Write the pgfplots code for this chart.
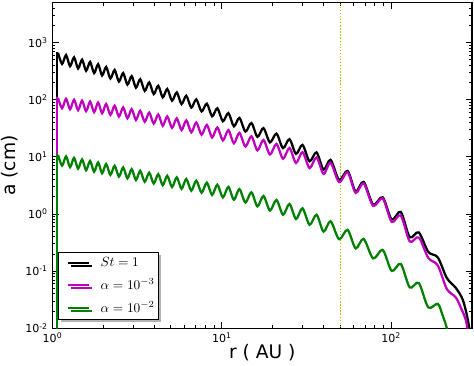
\documentclass[border=0pt]{standalone}
\usepackage{pgfplots}
\pgfplotsset{compat=1.18}
\usepackage{fontspec}
\setmainfont{DejaVu Sans}
\usetikzlibrary{shadows}
\definecolor{mplm}{rgb}{0.75,0,0.75}
\definecolor{mplg}{rgb}{0,0.5,0}
\definecolor{mply}{rgb}{0.75,0.75,0}
\begin{document}
\begin{tikzpicture}
\useasboundingbox (-39.4pt,-28.3pt) rectangle (316.1pt,246.2pt);
\begin{loglogaxis}[
  scale only axis, width=314.6pt, height=244.2pt,
  xmin=1, xmax=300, ymin=0.01, ymax=5000,
  log basis x=10, log basis y=10,
  tick align=inside,
  major tick length=4.5pt, minor tick length=2.2pt,
  every tick/.style={black, line width=0.6pt},
  axis line style={line width=0.9pt},
  ticklabel style={font=\fontsize{8.3}{9}\selectfont},
  xticklabel={10\textsuperscript{\pgfmathparse{int(round(\tick))}\pgfmathresult}},
  yticklabel={10\textsuperscript{\pgfmathparse{int(round(\tick))}\pgfmathresult}},
  xlabel={r ( AU )}, ylabel={a (cm)},
  label style={font=\fontsize{14}{16}\selectfont},
  xlabel style={at={(axis description cs:0.5,0)}, anchor=center, yshift=-18.5pt},
  ylabel style={at={(axis description cs:-0.102,0.5)}, anchor=center},
  legend image code/.code={\path (0cm,0cm) (0.95cm,0cm); \draw[#1, line width=1pt] (0.2cm,0cm) -- (0.75cm,0cm);},
  legend style={at={(axis description cs:0.013,0.025)}, anchor=south west,
    font=\fontsize{10}{11}\selectfont, draw=black, line width=0.6pt, fill=white,
    drop shadow={shadow xshift=2pt, shadow yshift=-2pt, fill=gray!60, opacity=1},
    row sep=3.5pt, inner xsep=1pt, inner ysep=2pt},
  legend cell align=left,
]
\addplot[mply, line width=0.9pt, dash pattern=on 1pt off 1.3pt, forget plot] coordinates {(50,0.005) (50,8000)};

\addplot[black, line width=1.7pt, forget plot] coordinates {(1.065,0.004) (1.065,663) (1.0778,663)};
\addplot[black, line width=1.7pt, smooth] coordinates {
(1.0778,663)(1.1382,423)(1.2019,604.5)(1.2692,385.7)(1.3403,551.1)(1.4155,351.7)(1.4947,502.6)(1.5784,320.7)(1.6668,458.4)(1.7603,292.5)(1.8589,418.0)(1.9630,265.2)(2.0729,374.6)(2.1965,235.2)(2.3273,331.1)(2.4661,207.9)(2.6131,292.6)(2.7690,183.8)(2.9340,258.6)(3.1088,162.4)(3.2941,228.6)(3.5025,143.0)(3.7240,200.6)(3.9595,125.6)(4.2098,176.0)(4.4761,110.2)(4.7589,154.5)(5.0772,96.3)(5.4166,134.6)(5.7790,83.9)(6.1650,117.2)(6.5996,72.8)(7.0650,101.4)(7.5894,62.43)(8.1515,85.31)(8.7563,51.32)(9.4052,70.88)(10.137,42.02)(10.926,58.37)(11.777,34.22)(12.692,48.08)(13.774,27.74)(14.947,39.12)(16.220,22.40)(17.603,31.85)(19.231,17.93)(21.013,25.49)(22.959,14.22)(25.084,20.40)(27.407,11.28)(29.945,16.19)(32.941,8.375)(36.238,11.97)(39.864,5.969)(43.854,8.860)(49.24,3.948)(55.28,5.666)(61.65,2.484)(68.75,3.650)(78.25,1.461)(89.07,1.961)(100.68,0.798)(113.82,1.088)(128.67,0.3932)(145.45,0.4762)(165.55,0.2169)(188.43,0.1738)(213.0,0.0760)(240.8,0.0508)(264.9,0.0313)(283.6,0.01398)(299.4,0.00513)};
\addlegendentry{$St=1$}

\addplot[mplm, line width=1.7pt, forget plot] coordinates {(1.065,0.004) (1.065,108) (1.0778,108)};
\addplot[mplm, line width=1.7pt, smooth] coordinates {
(1.0778,108.0)(1.1382,70.76)(1.2019,103.9)(1.2692,68.09)(1.3403,100.0)(1.4155,65.52)(1.4947,96.23)(1.5784,63.07)(1.6668,92.60)(1.7603,60.70)(1.8589,89.13)(1.9630,58.03)(2.0729,84.10)(2.1965,54.29)(2.3273,78.52)(2.4661,50.69)(2.6131,73.32)(2.7690,47.34)(2.9340,68.47)(3.1088,44.20)(3.2941,63.93)(3.5025,41.18)(3.7240,59.45)(3.9595,38.14)(4.2098,55.12)(4.4761,35.09)(4.7589,51.07)(5.0772,32.20)(5.4166,47.12)(5.7790,29.49)(6.1650,43.48)(6.5996,26.94)(7.0650,39.94)(7.5894,24.44)(8.1515,36.23)(8.7563,21.83)(9.4052,32.67)(10.137,19.44)(10.926,29.31)(11.777,17.28)(12.692,26.30)(13.774,15.18)(14.947,22.90)(16.220,12.98)(17.603,19.74)(19.231,11.02)(21.013,16.80)(22.959,9.294)(25.084,14.30)(27.407,7.842)(29.945,12.10)(32.941,6.356)(36.238,9.750)(39.864,5.022)(43.854,7.852)(49.24,3.613)(55.28,5.352)(61.65,2.342)(68.75,3.435)(78.25,1.387)(89.07,1.876)(100.68,0.7273)(113.82,0.9452)(128.67,0.3313)(145.45,0.3892)(165.55,0.1703)(188.43,0.1258)(213.0,0.0488)(240.8,0.03463)(261.3,0.02092)(277.5,0.01289)(291.4,0.0051)};
\addlegendentry{$\alpha=10^{-3}$}

\addplot[mplg, line width=1.7pt, forget plot] coordinates {(1.065,0.004) (1.065,10.84) (1.0778,10.84)};
\addplot[mplg, line width=1.7pt, smooth] coordinates {
(1.0778,10.84)(1.1382,7.025)(1.2019,10.19)(1.2692,6.606)(1.3403,9.587)(1.4155,6.212)(1.4947,9.016)(1.5784,5.841)(1.6668,8.478)(1.7603,5.493)(1.8589,7.975)(1.9630,5.162)(2.0729,7.482)(2.1965,4.829)(2.3273,6.986)(2.4661,4.509)(2.6131,6.524)(2.7690,4.211)(2.9340,6.091)(3.1088,3.932)(3.2941,5.687)(3.5025,3.664)(3.7240,5.290)(3.9595,3.413)(4.2098,4.967)(4.4761,3.185)(4.7589,4.670)(5.0772,2.967)(5.4166,4.374)(5.7790,2.759)(6.1650,4.099)(6.5996,2.560)(7.0650,3.827)(7.5894,2.363)(8.1515,3.535)(8.7563,2.152)(9.4052,3.252)(10.137,1.955)(10.926,2.979)(11.777,1.773)(12.692,2.729)(13.774,1.587)(14.947,2.394)(16.220,1.357)(17.603,2.064)(19.231,1.152)(21.013,1.756)(22.959,0.9716)(25.084,1.495)(27.407,0.8196)(29.945,1.257)(32.941,0.6474)(36.238,0.9683)(39.864,0.4915)(43.854,0.7457)(49.24,0.3624)(55.28,0.5276)(61.65,0.2500)(68.75,0.3664)(78.25,0.1669)(89.07,0.2351)(100.68,0.1008)(113.82,0.1337)(128.67,0.05183)(145.45,0.06215)(165.55,0.02318)(188.43,0.02676)(201.7,0.01642)(213.0,0.01012)(224.9,0.0051)};
\addlegendentry{$\alpha=10^{-2}$}
\end{loglogaxis}
\end{tikzpicture}
\end{document}
